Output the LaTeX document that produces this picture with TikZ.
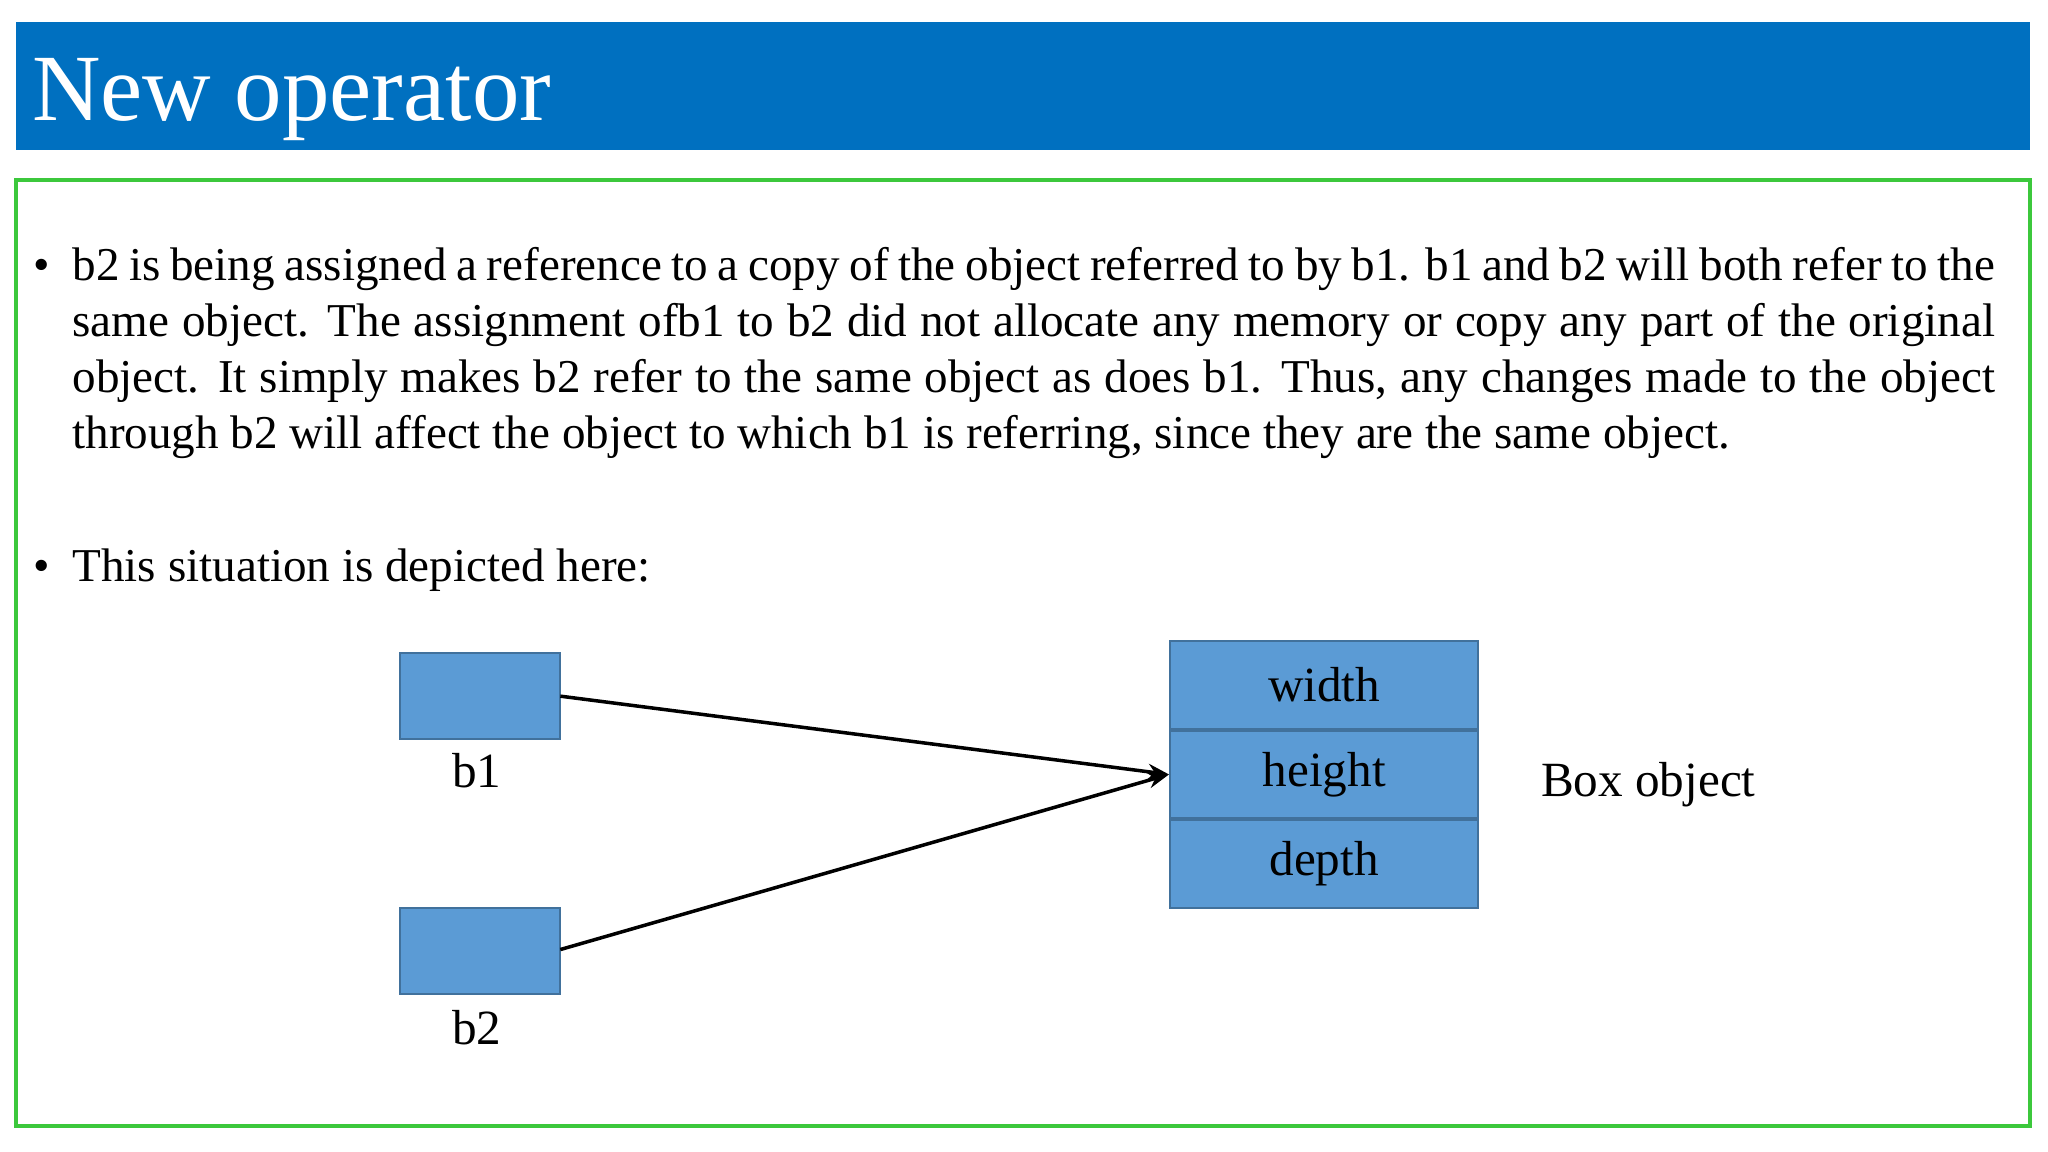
\documentclass[tikz,border=0pt]{standalone}
\usepackage{fontspec}
\setmainfont{Liberation Serif}
\usetikzlibrary{arrows.meta}
\definecolor{headblue}{HTML}{0070C0}
\definecolor{framegreen}{HTML}{3CC83C}
\definecolor{cellfill}{HTML}{5B9BD5}
\definecolor{celldraw}{HTML}{41719C}
\begin{document}
\begin{tikzpicture}[x=0.01306cm,y=-0.01306cm,
    obj cell/.style={draw=celldraw,fill=cellfill,line width=0.6pt,minimum width=236*0.01306cm,minimum height=67*0.01306cm,inner sep=0pt,font=\fontsize{14}{16}\selectfont},
    lbl/.style={font=\fontsize{14}{16}\selectfont},
    ptr/.style={-{Stealth[length=6pt]},line width=1pt}]
  \useasboundingbox (0,0) rectangle (1568,882);
  \fill[white] (0,0) rectangle (1568,882);
  % header
  \fill[headblue] (12,17) rectangle (1554,115);
  \node[anchor=base west,text=white,font=\fontsize{27}{30}\selectfont,inner sep=0pt] (title) at (24,92) {New operator};
  % frame
  \draw[framegreen,line width=1.2pt] (12,138) rectangle (1554,862);
  % text
  \node[anchor=north west,inner sep=0pt,text width=547pt,align=justify,font=\fontsize{13.4}{15.9}\selectfont] (para) at (55,189)
    {b2 is being assigned a reference to a copy of the object referred to by b1. b1 and b2 will both refer to the same object. The assignment ofb1 to b2 did not allocate any memory or copy any part of the original object. It simply makes b2 refer to the same object as does b1. Thus, any changes made to the object through b2 will affect the object to which b1 is referring, since they are the same object.};
  \node[anchor=base,font=\fontsize{13.4}{15.9}\selectfont,inner sep=0pt] (dot1) at (32,215) {•};
  \node[anchor=base west,font=\fontsize{13.4}{15.9}\selectfont,inner sep=0pt] (line2) at (55,445) {This situation is depicted here:};
  \node[anchor=base,font=\fontsize{13.4}{15.9}\selectfont,inner sep=0pt] (dot2) at (32,445) {•};
  % references
  \fill[cellfill,draw=celldraw,line width=0.6pt] (306,500) rectangle (429,566);
  \coordinate (b1) at (429,533);
  \fill[cellfill,draw=celldraw,line width=0.6pt] (306,695) rectangle (429,761);
  \coordinate (b2) at (429,727);
  \node[lbl] (b1 label) at (365,590) {b1};
  \node[lbl] (b2 label) at (365,787) {b2};
  % object
  \node[obj cell,anchor=north west] (width) at (895,490) {\raisebox{-5pt}{width}};
  \node[obj cell,anchor=north] (height) at (width.south) {\raisebox{-5pt}{height}};
  \node[obj cell,anchor=north] (depth) at (height.south) {\raisebox{-5pt}{depth}};
  \node[lbl] (objname) at (1262,601) {Box object};
  % pointers
  \draw[ptr] (b1) -- (height.west);
  \draw[ptr] (b2) -- (height.west);
\end{tikzpicture}
\end{document}
